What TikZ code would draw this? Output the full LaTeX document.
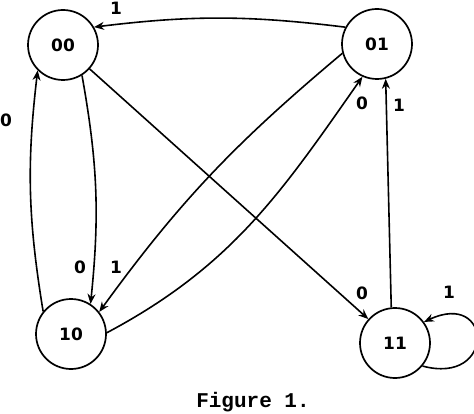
\documentclass[tikz,border=0pt]{standalone}
\usepackage{fontspec}
\setmainfont{DejaVu Sans}
\newfontfamily\capfont{Liberation Mono}
\usetikzlibrary{arrows.meta}
\begin{document}
\begin{tikzpicture}[x=1pt,y=-1pt,
  state/.style={circle,draw,line width=1.7pt,minimum size=70pt,inner sep=0pt,font=\bfseries\fontsize{17}{17}\selectfont},
  arc/.style={line width=1.6pt,-{Stealth[length=10pt,width=8pt]}},
  lbl/.style={font=\bfseries\fontsize{17}{17}\selectfont,inner sep=0pt}]
\useasboundingbox (0,0) rectangle (474,414);
\node[state] (s00) at (63,45) {00};
\node[state] (s01) at (377,44) {01};
\node[state] (s10) at (71,334) {10};
\node[state] (s11) at (395,343) {11};
% edges
\draw[arc] (s01.152) to[bend right=7] (s00.30);
\draw[arc] (s10.141) to[bend left=8] (s00.225);
\draw[arc] (s00.-58) to[bend left=8] (s10.57);
\draw[arc] (s00) -- (s11);
\draw[arc] (s01.195) to[out=220,in=54] (s10.38);
\draw[arc] (s10.2) to[out=28,in=235] (s01.246);
\draw[arc] (s11.96) -- (s01.-76);
\draw[arc] (s11.-40) to[out=-15,in=25,looseness=4.4] (s11.36);
% labels
\node[lbl] (l1) at (116,8) {1};
\node[lbl] (l2) at (6,120) {0};
\node[lbl] (l3) at (80,267) {0};
\node[lbl] (l4) at (116,267) {1};
\node[lbl] (l5) at (362,103) {0};
\node[lbl] (l6) at (399,105) {1};
\node[lbl] (l7) at (362,293) {0};
\node[lbl] (l8) at (449,292) {1};
\node[font=\capfont\bfseries\fontsize{21}{21}\selectfont,inner sep=0pt] (cap) at (253,402) {Figure 1.};
\end{tikzpicture}
\end{document}
